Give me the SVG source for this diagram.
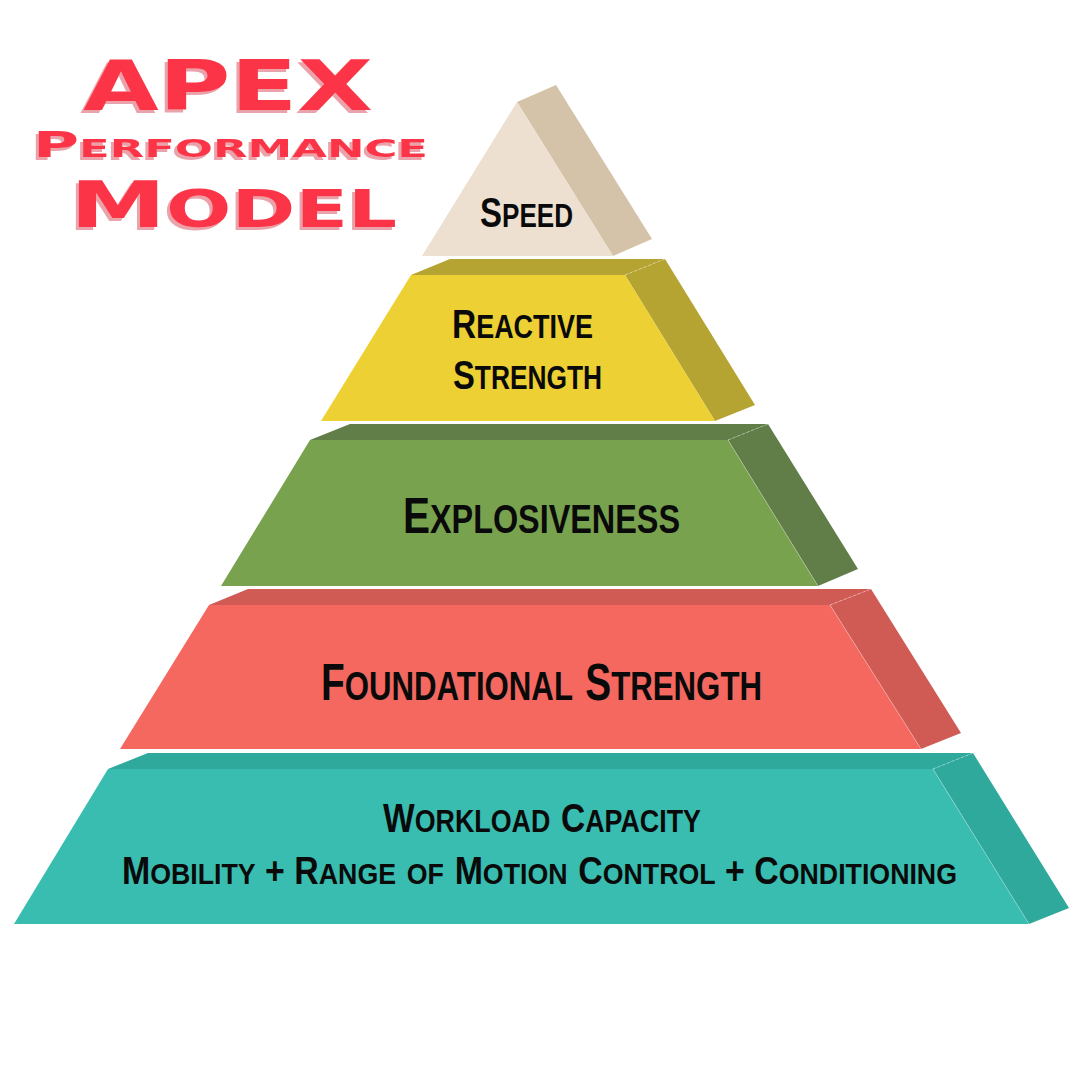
<svg xmlns="http://www.w3.org/2000/svg" width="1080" height="1080" viewBox="0 0 1080 1080">
<style>
.lbl{font-family:"Liberation Sans Narrow","Liberation Sans","DejaVu Sans Condensed",sans-serif;font-weight:bold;font-variant:small-caps;fill:#0a0a0a}
.sc{font-size:114%}
.ttl{font-family:"DejaVu Sans","Liberation Sans",sans-serif;font-weight:bold;font-variant:small-caps;fill:#fb3647}
.edge{stroke:#ffffff;stroke-opacity:0.35;stroke-width:1;stroke-dasharray:3 2;fill:none}
.seam{stroke:#ffffff;stroke-opacity:0.25;stroke-width:1}
</style>
<defs>
  <filter id="shadow" x="-5%" y="-10%" width="110%" height="130%">
    <feOffset in="SourceAlpha" dx="-3" dy="3" result="off"/>
    <feFlood flood-color="#eba3ab"/>
    <feComposite in2="off" operator="in" result="sh"/>
    <feMerge><feMergeNode in="sh"/><feMergeNode in="SourceGraphic"/></feMerge>
  </filter>
</defs>
<rect width="1080" height="1080" fill="#ffffff"/>

<g id="title" class="ttl" filter="url(#shadow)">
  <text x="83" y="110" font-size="69" textLength="290" lengthAdjust="spacingAndGlyphs">APEX</text>
  <text x="33" y="157" font-size="35" textLength="395" lengthAdjust="spacingAndGlyphs">Performance</text>
  <text x="70" y="227" font-size="64" textLength="327" lengthAdjust="spacingAndGlyphs">M<tspan class="sc">odel</tspan></text>
</g>

<g id="speed">
  <polygon points="517,102 556,85 652,239 613,256" fill="#d4c3a8"/>
  <polygon points="517,102 613,256 422,256" fill="#ede0d1"/>
  <text class="lbl" x="480" y="227" font-size="43" textLength="93" lengthAdjust="spacingAndGlyphs">S<tspan class="sc">peed</tspan></text>
</g>

<g id="reactive-strength">
  <polygon points="411,275 450,259 665,259 625,275" fill="#b5a431"/>
  <polygon points="625,275 665,259 755,405 715,421" fill="#b5a431"/>
  <polygon points="411,275 625,275 715,421 321,421" fill="#ecd034"/>
  <line class="edge" x1="625" y1="275" x2="665" y2="259"/>
  <text class="lbl" x="452" y="338" font-size="41" textLength="141" lengthAdjust="spacingAndGlyphs">R<tspan class="sc">eactive</tspan></text>
  <text class="lbl" x="453" y="389" font-size="41" textLength="149" lengthAdjust="spacingAndGlyphs">S<tspan class="sc">trength</tspan></text>
</g>

<g id="explosiveness">
  <polygon points="310,440 350,424 768,424 728,440" fill="#617e48"/>
  <polygon points="728,440 768,424 858,569 818,586" fill="#617e48"/>
  <polygon points="310,440 728,440 818,586 221,586" fill="#78a24e"/>
  <line class="edge" x1="728" y1="440" x2="768" y2="424"/>
  <line class="seam" x1="728" y1="440" x2="818" y2="586"/>
  <text class="lbl" x="403" y="533" font-size="50" textLength="277" lengthAdjust="spacingAndGlyphs">E<tspan class="sc">xplosiveness</tspan></text>
</g>

<g id="foundational-strength">
  <polygon points="209,605 248,589 871,589 830,605" fill="#d05b55"/>
  <polygon points="830,605 871,589 961,733 921,749" fill="#d05b55"/>
  <polygon points="209,605 830,605 921,749 120,749" fill="#f4685f"/>
  <line class="edge" x1="830" y1="605" x2="871" y2="589"/>
  <line class="seam" x1="830" y1="605" x2="921" y2="749"/>
  <text class="lbl" x="321" y="700" font-size="51" textLength="441" lengthAdjust="spacingAndGlyphs">F<tspan class="sc">oundational </tspan>S<tspan class="sc">trength</tspan></text>
</g>

<g id="workload-capacity">
  <polygon points="108,769 148,753 973,753 933,769" fill="#2ea99c"/>
  <polygon points="933,769 973,753 1069,908 1029,924" fill="#2ea99c"/>
  <polygon points="108,769 933,769 1029,924 14,924" fill="#39bdb0"/>
  <line class="edge" x1="933" y1="769" x2="973" y2="753"/>
  <line class="seam" x1="933" y1="769" x2="1029" y2="924"/>
  <text class="lbl" x="383" y="832" font-size="40" textLength="318" lengthAdjust="spacingAndGlyphs">W<tspan class="sc">orkload </tspan>C<tspan class="sc">apacity</tspan></text>
  <text class="lbl" x="122" y="884" font-size="38" textLength="835" lengthAdjust="spacingAndGlyphs">M<tspan class="sc">obility</tspan> + R<tspan class="sc">ange of </tspan>M<tspan class="sc">otion </tspan>C<tspan class="sc">ontrol</tspan> + C<tspan class="sc">onditioning</tspan></text>
</g>

<g id="connectors"></g>
</svg>
